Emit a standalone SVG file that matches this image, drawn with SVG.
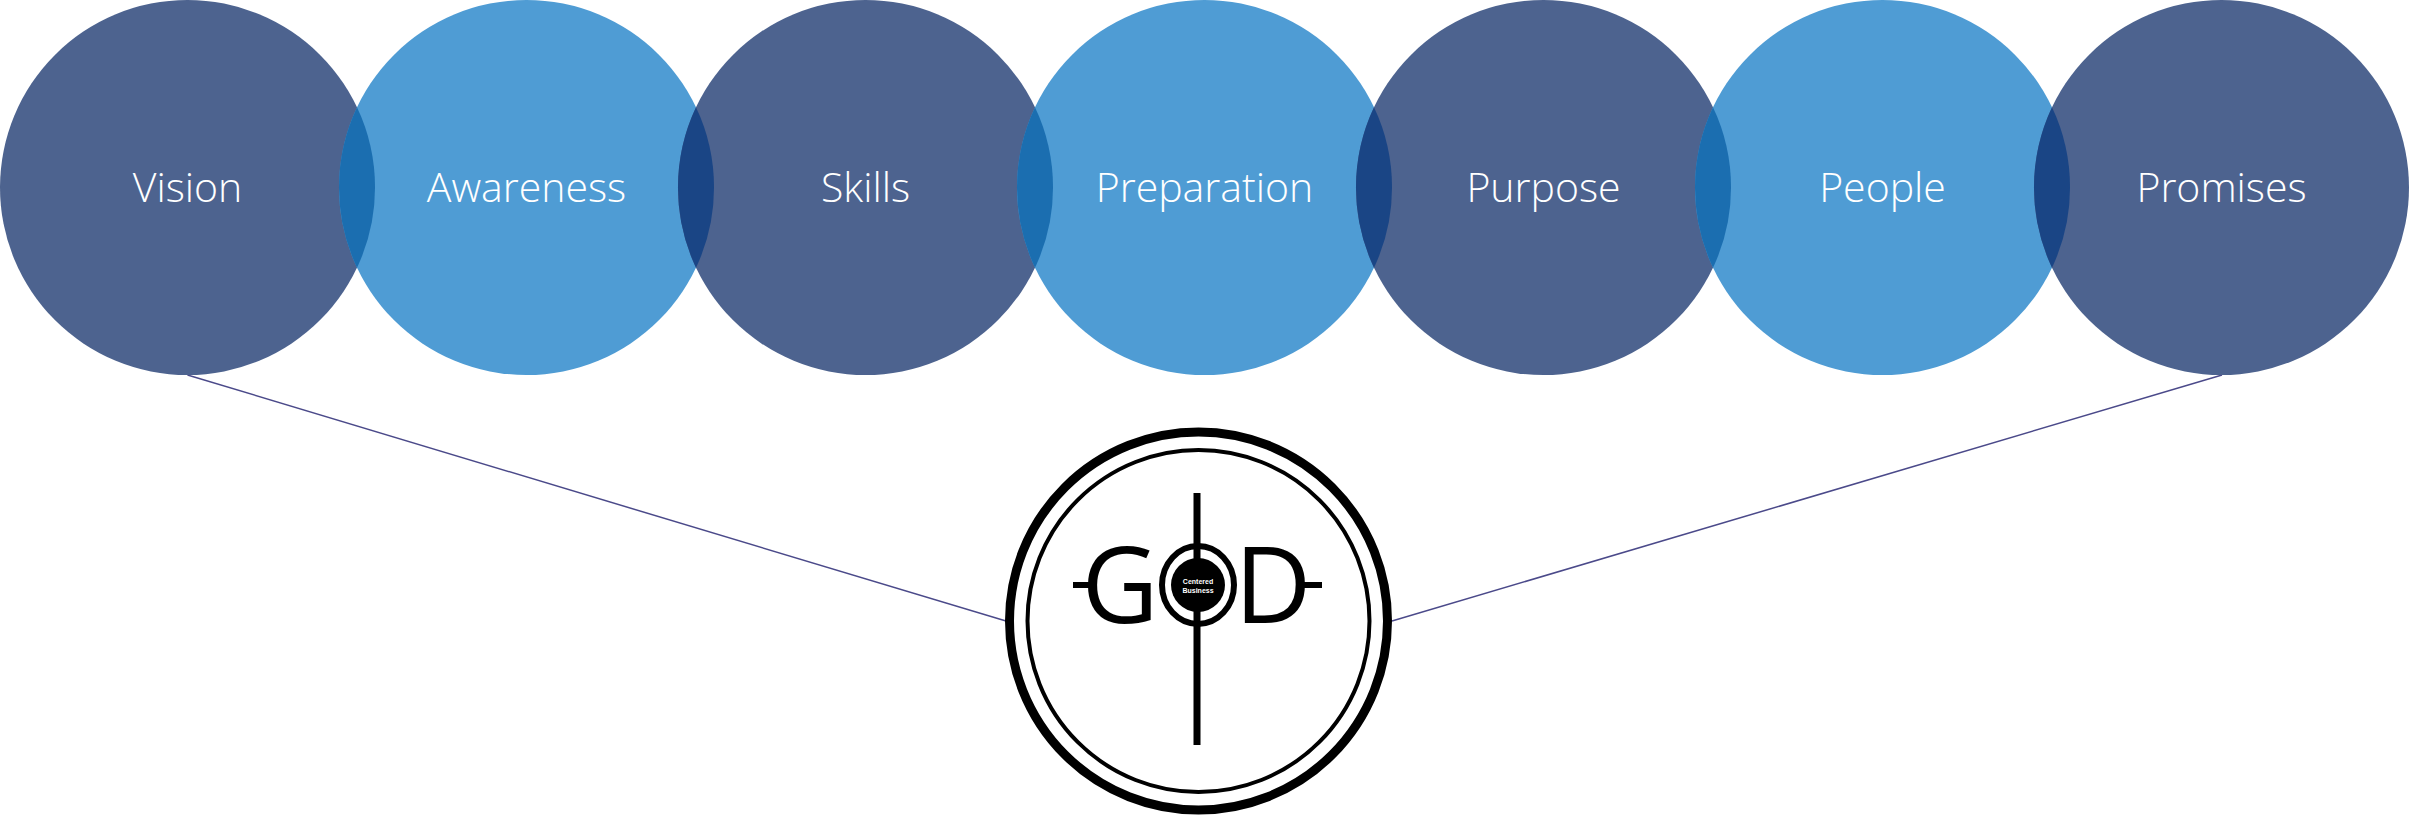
<svg xmlns="http://www.w3.org/2000/svg" width="2410" height="818" viewBox="0 0 2410 818">
<style>
.dark{fill:#4d638f}.light{fill:#4f9cd4}
.l1{fill:#1b6eb0}.l2{fill:#1a4585}
.lbl{font-family:"Open Sans",sans-serif;font-weight:300;font-size:41px;fill:#fff;text-anchor:middle}
.conn{stroke:#4b4a8a;stroke-width:1.5;fill:none}
</style>
<rect width="2410" height="818" fill="#fff"/>
<g id="connectors">
<line class="conn" x1="187.5" y1="375" x2="1006" y2="621"/>
<line class="conn" x1="2222" y1="375" x2="1392" y2="621"/>
</g>
<g id="vision"><circle class="dark" cx="187.5" cy="187.5" r="187.5"/></g>
<g id="awareness"><circle class="light" cx="526.5" cy="187.5" r="187.5"/></g>
<g id="skills"><circle class="dark" cx="865.5" cy="187.5" r="187.5"/></g>
<g id="preparation"><circle class="light" cx="1204.5" cy="187.5" r="187.5"/></g>
<g id="purpose"><circle class="dark" cx="1543.5" cy="187.5" r="187.5"/></g>
<g id="people"><circle class="light" cx="1882.5" cy="187.5" r="187.5"/></g>
<g id="promises"><circle class="dark" cx="2221.5" cy="187.5" r="187.5"/></g>
<g id="overlaps">
<path class="l1" d="M357,107.3 A187.5,187.5 0 0 1 357,267.7 A187.5,187.5 0 0 1 357,107.3Z"/>
<path class="l2" d="M696,107.3 A187.5,187.5 0 0 1 696,267.7 A187.5,187.5 0 0 1 696,107.3Z"/>
<path class="l1" d="M1035,107.3 A187.5,187.5 0 0 1 1035,267.7 A187.5,187.5 0 0 1 1035,107.3Z"/>
<path class="l2" d="M1374,107.3 A187.5,187.5 0 0 1 1374,267.7 A187.5,187.5 0 0 1 1374,107.3Z"/>
<path class="l1" d="M1713,107.3 A187.5,187.5 0 0 1 1713,267.7 A187.5,187.5 0 0 1 1713,107.3Z"/>
<path class="l2" d="M2052,107.3 A187.5,187.5 0 0 1 2052,267.7 A187.5,187.5 0 0 1 2052,107.3Z"/>
</g>
<g id="labels">
<text class="lbl" x="187.5" y="202">Vision</text>
<text class="lbl" x="526.5" y="202">Awareness</text>
<text class="lbl" x="865.5" y="202">Skills</text>
<text class="lbl" x="1204.5" y="202">Preparation</text>
<text class="lbl" x="1543.5" y="202">Purpose</text>
<text class="lbl" x="1882.5" y="202">People</text>
<text class="lbl" x="2221.5" y="202">Promises</text>
</g>
<g id="logo">
<circle cx="1198.5" cy="621" r="189" fill="#fff" stroke="#000" stroke-width="9"/>
<circle cx="1198.5" cy="621" r="171" fill="none" stroke="#000" stroke-width="4"/>
<line x1="1073" y1="585" x2="1095" y2="585" stroke="#000" stroke-width="6"/>
<line x1="1300" y1="585" x2="1322" y2="585" stroke="#000" stroke-width="6"/>
<text x="1120" y="623" font-family="Open Sans,sans-serif" font-weight="400" font-size="106" text-anchor="middle" fill="#000">G</text>
<text x="1273" y="623" font-family="Open Sans,sans-serif" font-weight="400" font-size="106" text-anchor="middle" fill="#000">D</text>
<ellipse cx="1198" cy="585" rx="36" ry="39" fill="#fff" stroke="#000" stroke-width="6"/>
<line x1="1197" y1="493" x2="1197" y2="745" stroke="#000" stroke-width="7"/>
<circle cx="1198" cy="585" r="27" fill="#000"/>
<text x="1198" y="584" font-family="Liberation Sans,sans-serif" font-weight="bold" font-size="7" text-anchor="middle" fill="#fff">Centered</text>
<text x="1198" y="593" font-family="Liberation Sans,sans-serif" font-weight="bold" font-size="7" text-anchor="middle" fill="#fff">Business</text>
</g>
</svg>
